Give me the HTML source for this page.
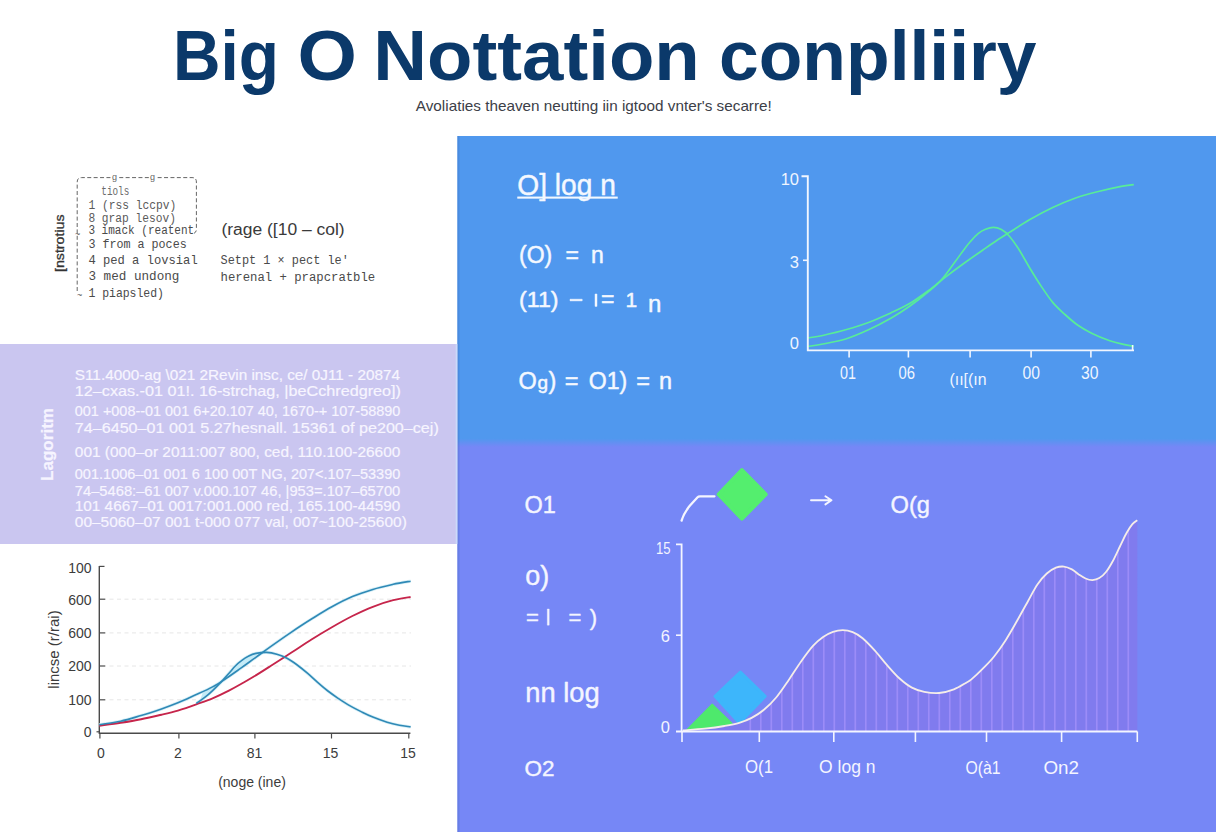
<!DOCTYPE html>
<html lang="en">
<head>
<meta charset="utf-8">
<title>Big O Nottation conplliiry</title>
<style>
  html, body { margin: 0; padding: 0; background: #ffffff; }
  body { width: 1216px; height: 832px; overflow: hidden; font-family: "Liberation Sans", sans-serif; }
  svg { display: block; }
  text { font-family: "Liberation Sans", sans-serif; }
  .mono { font-family: "Liberation Mono", monospace; }
</style>
</head>
<body>
<svg width="1216" height="832" viewBox="0 0 1216 832">
  <defs>
    <linearGradient id="rightbg" x1="0" y1="0" x2="0" y2="1" gradientUnits="objectBoundingBox">
      <stop offset="0" stop-color="#5098EE"/>
      <stop offset="0.4346" stop-color="#5098EE"/>
      <stop offset="0.4468" stop-color="#7687F6"/>
      <stop offset="1" stop-color="#7687F6"/>
    </linearGradient>
    <pattern id="stripes" x="0" y="0" width="8.2" height="10" patternUnits="userSpaceOnUse">
      <rect x="0" y="0" width="8.2" height="10" fill="#8877E8"/>
      <rect x="3.4" y="0" width="1.4" height="10" fill="#A493F2"/>
    </pattern>
  </defs>

  <!-- ============ BACKGROUND PANELS ============ -->
  <rect x="0" y="0" width="1216" height="832" fill="#ffffff"/>
  <rect x="457.3" y="136" width="758.7" height="696" fill="url(#rightbg)"/>
  <rect x="0" y="344" width="457.3" height="200" fill="#CAC6F0"/>
  <rect x="455.7" y="344" width="1.6" height="200" fill="#CBDAFB"/>
  <rect x="457.3" y="136" width="2.2" height="696" fill="#2c5aa8" opacity="0.2"/>

  <!-- ============ TITLE ============ -->
  <g id="title">
    <g font-size="71" font-weight="700" fill="#0B396A">
      <text id="w1" x="173" y="80" textLength="106" lengthAdjust="spacingAndGlyphs">Big</text>
      <text id="w2" x="297.6" y="80" textLength="59.4" lengthAdjust="spacingAndGlyphs">O</text>
      <text id="w3" x="373.3" y="80" textLength="326.5" lengthAdjust="spacingAndGlyphs">Nottation</text>
      <text id="w4" x="719" y="80" textLength="317.6" lengthAdjust="spacingAndGlyphs">conplliiry</text>
    </g>
    <text x="415.8" y="110.8" font-size="14.5" fill="#3c4048" textLength="356" lengthAdjust="spacingAndGlyphs">Avoliaties theaven neutting iin igtood vnter's secarre!</text>
  </g>

  <!-- SECTION: topleft -->
  <g id="topleft">
    <path d="M77.2 291 V182 Q77.2 177.6 81.6 177.6 H192 Q196.4 177.6 196.4 182 V229 Q196.4 233.6 192 233.6" fill="none" stroke="#555" stroke-width="0.9" stroke-dasharray="4 2.4"/>
    <rect x="111" y="174" width="8" height="7" fill="#fff"/><rect x="149" y="174" width="8" height="7" fill="#fff"/>
    <text x="112" y="180" font-size="9" fill="#666">g</text>
    <text x="150" y="180" font-size="9" fill="#666">g</text>
    <text x="75" y="237" font-size="9" fill="#555">~</text>
    <text x="77" y="298" font-size="9" fill="#555">~</text>
    <g class="mono" fill="#4a4a4a" font-size="12">
      <text class="mono" x="101.3" y="195" fill="#6a6a6a" textLength="28" lengthAdjust="spacingAndGlyphs">tiols</text>
      <text class="mono" x="88.4" y="208.6" fill="#5a5a5a" textLength="88" lengthAdjust="spacingAndGlyphs">1 (rss lccpv)</text>
      <text class="mono" x="88.4" y="221.6" fill="#5a5a5a" textLength="87.5" lengthAdjust="spacingAndGlyphs">8 grap lesov)</text>
      <text class="mono" x="88.4" y="233.6" textLength="105.8" lengthAdjust="spacingAndGlyphs">3 imack (reatent</text>
      <text class="mono" x="88.4" y="247.8" textLength="98.3" lengthAdjust="spacingAndGlyphs">3 from a poces</text>
      <text class="mono" x="88.4" y="264" font-size="13" textLength="109.3" lengthAdjust="spacingAndGlyphs">4 ped a lovsial</text>
      <text class="mono" x="88.4" y="280.3" font-size="13" textLength="91" lengthAdjust="spacingAndGlyphs">3 med undong</text>
      <text class="mono" x="88.4" y="296.9" font-size="13" textLength="75.6" lengthAdjust="spacingAndGlyphs">1 piapsled)</text>
    </g>
    <text transform="translate(63.6,272) rotate(-90)" font-size="12.5" fill="#333" stroke="#333" stroke-width="0.3" textLength="57.5" lengthAdjust="spacingAndGlyphs">[nstrotius</text>
    <text x="221.4" y="234.9" font-size="16" fill="#3a3a3a" textLength="123.3" lengthAdjust="spacingAndGlyphs">(rage ([10 – col)</text>
    <text class="mono" x="220.6" y="263.8" font-size="12.5" fill="#4a4a4a" textLength="128.2" lengthAdjust="spacingAndGlyphs">Setpt 1 × pect le'</text>
    <text class="mono" x="220.6" y="280.9" font-size="12.5" fill="#4a4a4a" textLength="154.6" lengthAdjust="spacingAndGlyphs">herenal + prapcratble</text>
  </g>
  <!-- SECTION: lavender -->
  <g id="lavender" fill="#F7F5FF" stroke="#F7F5FF" stroke-width="0.2" font-size="14.3">
    <text x="74.8" y="379.8" textLength="325.2" lengthAdjust="spacingAndGlyphs">S11.4000-ag \021 2Revin insc, ce/ 0J11 - 20874</text>
    <text x="74.8" y="395.8" textLength="326.2" lengthAdjust="spacingAndGlyphs">12–cxas.-01 01!. 16-strchag, |beCchredgreo])</text>
    <text x="74.8" y="416.4" textLength="325.5" lengthAdjust="spacingAndGlyphs">001 +008--01 001 6+20.107 40, 1670-+ 107-58890</text>
    <text x="74.8" y="433" textLength="364" lengthAdjust="spacingAndGlyphs">74–6450–01 001 5.27hesnall. 15361 of  pe200–cej)</text>
    <text x="74.8" y="456.6" textLength="325.5" lengthAdjust="spacingAndGlyphs">001 (000–or 2011:007 800, ced, 110.100-26600</text>
    <text x="74.8" y="479" textLength="325.5" lengthAdjust="spacingAndGlyphs">001.1006–01 001 6 100 00T NG, 207&lt;.107–53390</text>
    <text x="74.8" y="495.6" textLength="325.5" lengthAdjust="spacingAndGlyphs">74–5468:–61 007 v.000.107 46, |953=.107–65700</text>
    <text x="74.8" y="510.6" textLength="325.5" lengthAdjust="spacingAndGlyphs">101 4667–01 0017:001.000 red, 165.100-44590</text>
    <text x="74.8" y="526.9" textLength="332" lengthAdjust="spacingAndGlyphs">00–5060–07 001 t-000 077 val, 007~100-25600)</text>
    <text transform="translate(52.5,481) rotate(-90)" font-size="16" font-weight="700" fill="#F6F4FF" textLength="73" lengthAdjust="spacingAndGlyphs">Lagoritm</text>
  </g>
  <!-- SECTION: chart-bl -->
  <g id="chart-bl">
    <g stroke="#E6E6E6" stroke-width="1" stroke-dasharray="4 3.5">
      <line x1="109.5" y1="599.2" x2="411" y2="599.2"/>
      <line x1="109.5" y1="632.9" x2="411" y2="632.9"/>
      <line x1="109.5" y1="666" x2="411" y2="666"/>
      <line x1="109.5" y1="699.8" x2="411" y2="699.8"/>
    </g>
    <path d="M99.3 566 V733.3 H410.4" fill="none" stroke="#4a4a4a" stroke-width="1.4"/>
    <g stroke="#4a4a4a" stroke-width="1.2">
      <line x1="99.3" y1="566.4" x2="104.5" y2="566.4"/>
      <line x1="99.3" y1="599.2" x2="105.3" y2="599.2"/>
      <line x1="99.3" y1="632.9" x2="105.3" y2="632.9"/>
      <line x1="99.3" y1="666" x2="105.3" y2="666"/>
      <line x1="99.3" y1="699.8" x2="105.3" y2="699.8"/>
      <line x1="96.5" y1="731.8" x2="99.3" y2="731.8"/>
      <line x1="99.9" y1="733" x2="99.9" y2="738.5"/>
      <line x1="178.9" y1="733" x2="178.9" y2="738.5"/>
      <line x1="254.9" y1="733" x2="254.9" y2="738.5"/>
      <line x1="331.5" y1="733" x2="331.5" y2="738.5"/>
      <line x1="408.8" y1="733" x2="408.8" y2="738.5"/>
    </g>
    <g font-size="14" fill="#3c3c3c" text-anchor="end">
      <text x="91.5" y="572.6">100</text>
      <text x="91.5" y="604.5">600</text>
      <text x="91.5" y="637.8">600</text>
      <text x="91.5" y="671.1">200</text>
      <text x="91.5" y="704.8">100</text>
      <text x="91.5" y="737.2">0</text>
    </g>
    <g font-size="14" fill="#3c3c3c" text-anchor="middle">
      <text x="101" y="757.6">0</text>
      <text x="178" y="757.6">2</text>
      <text x="254.5" y="757.6">81</text>
      <text x="330.5" y="757.6">15</text>
      <text x="408" y="757.6">15</text>
      <text x="252" y="787" font-size="14">(noge (ine)</text>
    </g>
    <text transform="translate(59.2,649.5) rotate(-90)" font-size="15" fill="#3c3c3c" text-anchor="middle">lincse (r/rai)</text>
    <path d="M200.0 700.8 C200.7 700.3 202.3 699.4 204.4 697.7 C206.5 696.0 209.9 693.2 212.6 690.6 C215.3 688.0 218.1 685.3 220.8 682.4 C223.5 679.5 226.6 675.9 229.0 673.2 C231.4 670.5 233.1 668.2 235.1 666.2 C237.1 664.2 239.0 662.5 241.2 660.9 C243.4 659.2 245.8 657.5 248.3 656.3 C250.8 655.0 253.7 654.0 256.0 653.4 C258.3 652.8 261.0 652.7 262.0 652.6 L262.0 652.8 C260.9 653.6 259.0 655.1 255.5 657.6 C252.0 660.1 246.3 664.3 241.2 667.9 C236.1 671.5 229.7 676.1 224.9 679.3 C220.1 682.5 216.2 684.8 212.6 686.9 C208.9 689.0 204.6 690.8 203.0 691.6 Z" fill="#C4ECF8" stroke="none"/>
    <path d="M99.2 724.7 C102.8 724.1 113.6 722.7 120.6 721.2 C127.6 719.7 134.3 717.5 141.1 715.5 C147.9 713.5 155.4 711.0 161.5 708.9 C167.6 706.8 172.1 705.2 177.9 702.8 C183.7 700.4 190.5 697.2 196.3 694.6 C202.1 692.0 207.8 689.5 212.6 686.9 C217.4 684.3 220.1 682.5 224.9 679.3 C229.7 676.1 236.1 671.5 241.2 667.9 C246.3 664.3 250.6 661.1 255.5 657.6 C260.4 654.1 264.7 650.8 270.6 646.6 C276.5 642.4 284.3 636.9 291.1 632.3 C297.9 627.7 304.7 623.2 311.5 619.0 C318.3 614.8 325.1 610.5 331.9 606.8 C338.7 603.1 345.6 599.5 352.4 596.6 C359.2 593.7 366.0 591.5 372.8 589.4 C379.6 587.3 386.9 585.7 393.2 584.3 C399.5 582.9 407.7 581.7 410.6 581.2" fill="none" stroke="#C7E9F4" stroke-width="3.2" opacity="0.7"/>
    <path d="M196.3 703.4 C197.7 702.5 201.7 699.8 204.4 697.7 C207.1 695.6 209.9 693.2 212.6 690.6 C215.3 688.0 218.1 685.3 220.8 682.4 C223.5 679.5 226.6 675.9 229.0 673.2 C231.4 670.5 233.1 668.2 235.1 666.2 C237.1 664.2 239.0 662.5 241.2 660.9 C243.4 659.2 245.8 657.5 248.3 656.3 C250.8 655.0 252.9 654.0 256.0 653.4 C259.1 652.8 263.1 652.3 266.6 652.4 C270.1 652.5 273.4 653.2 276.8 654.2 C280.2 655.2 283.6 656.5 287.0 658.3 C290.4 660.1 293.8 662.5 297.2 665.0 C300.6 667.5 304.0 670.3 307.4 673.2 C310.8 676.1 314.2 679.4 317.6 682.4 C321.0 685.4 324.5 688.4 327.9 691.0 C331.3 693.6 334.7 696.0 338.1 698.3 C341.5 700.6 344.6 702.7 348.3 704.9 C352.1 707.1 356.5 709.4 360.6 711.4 C364.7 713.4 368.4 715.3 372.8 717.1 C377.2 718.9 382.7 720.8 387.1 722.2 C391.5 723.6 395.5 724.5 399.4 725.3 C403.3 726.1 408.7 726.6 410.6 726.9" fill="none" stroke="#C7E9F4" stroke-width="3.2" opacity="0.7"/>
    <path d="M99.2 725.7 C102.8 725.2 113.6 723.9 120.6 722.8 C127.6 721.7 134.3 720.6 141.1 719.2 C147.9 717.9 155.4 716.1 161.5 714.7 C167.6 713.3 172.1 712.3 177.9 710.6 C183.7 708.9 190.5 706.5 196.3 704.4 C202.1 702.3 207.2 700.6 212.6 698.3 C218.0 696.0 224.2 693.0 228.9 690.6 C233.6 688.2 236.8 686.4 241.0 684.0 C245.2 681.6 249.4 679.3 254.3 676.3 C259.2 673.3 264.5 669.9 270.6 666.0 C276.7 662.1 284.3 657.2 291.1 652.8 C297.9 648.4 304.7 643.8 311.5 639.5 C318.3 635.2 325.1 631.1 331.9 627.2 C338.7 623.3 345.6 619.4 352.4 616.0 C359.2 612.6 366.0 609.4 372.8 606.8 C379.6 604.2 386.9 601.8 393.2 600.2 C399.5 598.6 407.7 597.5 410.6 597.0" fill="none" stroke="#C6254B" stroke-width="1.9"/>
    <path d="M99.2 724.7 C102.8 724.1 113.6 722.7 120.6 721.2 C127.6 719.7 134.3 717.5 141.1 715.5 C147.9 713.5 155.4 711.0 161.5 708.9 C167.6 706.8 172.1 705.2 177.9 702.8 C183.7 700.4 190.5 697.2 196.3 694.6 C202.1 692.0 207.8 689.5 212.6 686.9 C217.4 684.3 220.1 682.5 224.9 679.3 C229.7 676.1 236.1 671.5 241.2 667.9 C246.3 664.3 250.6 661.1 255.5 657.6 C260.4 654.1 264.7 650.8 270.6 646.6 C276.5 642.4 284.3 636.9 291.1 632.3 C297.9 627.7 304.7 623.2 311.5 619.0 C318.3 614.8 325.1 610.5 331.9 606.8 C338.7 603.1 345.6 599.5 352.4 596.6 C359.2 593.7 366.0 591.5 372.8 589.4 C379.6 587.3 386.9 585.7 393.2 584.3 C399.5 582.9 407.7 581.7 410.6 581.2" fill="none" stroke="#2F89B6" stroke-width="1.6"/>
    <path d="M196.3 703.4 C197.7 702.5 201.7 699.8 204.4 697.7 C207.1 695.6 209.9 693.2 212.6 690.6 C215.3 688.0 218.1 685.3 220.8 682.4 C223.5 679.5 226.6 675.9 229.0 673.2 C231.4 670.5 233.1 668.2 235.1 666.2 C237.1 664.2 239.0 662.5 241.2 660.9 C243.4 659.2 245.8 657.5 248.3 656.3 C250.8 655.0 252.9 654.0 256.0 653.4 C259.1 652.8 263.1 652.3 266.6 652.4 C270.1 652.5 273.4 653.2 276.8 654.2 C280.2 655.2 283.6 656.5 287.0 658.3 C290.4 660.1 293.8 662.5 297.2 665.0 C300.6 667.5 304.0 670.3 307.4 673.2 C310.8 676.1 314.2 679.4 317.6 682.4 C321.0 685.4 324.5 688.4 327.9 691.0 C331.3 693.6 334.7 696.0 338.1 698.3 C341.5 700.6 344.6 702.7 348.3 704.9 C352.1 707.1 356.5 709.4 360.6 711.4 C364.7 713.4 368.4 715.3 372.8 717.1 C377.2 718.9 382.7 720.8 387.1 722.2 C391.5 723.6 395.5 724.5 399.4 725.3 C403.3 726.1 408.7 726.6 410.6 726.9" fill="none" stroke="#2F89B6" stroke-width="1.6"/>
  </g>
  <!-- SECTION: blue-text -->
  <g id="blue-text" fill="#F4F8FF" stroke="#F4F8FF" stroke-width="0.45" stroke-linejoin="round">
    <text x="517.3" y="194.6" font-size="29.3" textLength="98.5" lengthAdjust="spacingAndGlyphs">O] log n</text>
    <rect x="517.5" y="196.8" width="100" height="1.6" fill="#F4F8FF"/>
    <text x="519" y="263.3" font-size="23">(O)</text>
    <text x="565.5" y="263.3" font-size="23">=</text>
    <text x="591" y="263.3" font-size="23">n</text>
    <text x="519" y="306.6" font-size="22.5" textLength="39.5" lengthAdjust="spacingAndGlyphs">(11)</text>
    <rect x="570" y="299.2" width="12.2" height="1.7"/>
    <rect x="595" y="294" width="2" height="12.4"/>
    <text x="601" y="306.6" font-size="23">=</text>
    <text x="625.5" y="306.6" font-size="21">1</text>
    <text x="648" y="311.6" font-size="24">n</text>
    <text x="518.5" y="389.4" font-size="23.5">O</text>
    <text x="537.5" y="388.5" font-size="19">g</text>
    <text x="548.5" y="389.4" font-size="23.5">)</text>
    <text x="564.8" y="389.4" font-size="23.5">=</text>
    <text x="588.8" y="389.4" font-size="23.5" textLength="38.5" lengthAdjust="spacingAndGlyphs">O1)</text>
    <text x="636.2" y="389.4" font-size="23.5">=</text>
    <text x="659" y="389.4" font-size="23.5">n</text>
  </g>
  <!-- SECTION: chart-tr -->
  <g id="chart-tr">
    <path d="M808.2 346.4 C810.6 346.0 816.5 345.2 822.8 344.0 C829.0 342.8 838.1 341.4 845.7 339.0 C853.3 336.6 860.9 333.3 868.5 329.8 C876.1 326.3 884.4 321.9 891.3 318.0 C898.1 314.1 903.5 310.6 909.6 306.3 C915.7 302.0 922.6 296.6 927.9 292.1 C933.2 287.7 937.0 284.7 941.6 279.6 C946.2 274.5 951.6 266.4 955.3 261.5 C959.0 256.6 961.2 253.2 963.7 249.9 C966.2 246.7 967.6 244.7 970.0 242.0 C972.4 239.3 975.5 235.7 978.1 233.6 C980.7 231.5 983.0 230.3 985.5 229.3 C988.0 228.3 990.8 227.4 993.4 227.4 C996.0 227.4 998.7 228.1 1001.4 229.6 C1004.1 231.1 1006.5 233.0 1009.4 236.2 C1012.2 239.4 1015.1 243.5 1018.5 248.8 C1021.9 254.1 1026.1 261.9 1029.9 268.2 C1033.7 274.5 1037.5 280.7 1041.3 286.4 C1045.1 292.1 1048.9 297.8 1052.7 302.4 C1056.5 307.0 1060.0 310.0 1064.2 313.8 C1068.4 317.6 1073.3 322.1 1077.9 325.3 C1082.5 328.5 1086.3 330.6 1091.6 333.2 C1096.9 335.8 1104.5 338.9 1109.8 340.8 C1115.1 342.7 1119.5 343.5 1123.5 344.4 C1127.5 345.3 1132.1 346.0 1133.8 346.3" fill="none" stroke="#58EC98" stroke-width="1.7"/>
    <path d="M808.2 337.9 C810.6 337.5 816.5 336.9 822.8 335.5 C829.0 334.1 838.1 332.0 845.7 329.8 C853.3 327.6 860.9 325.4 868.5 322.5 C876.1 319.6 884.4 315.8 891.3 312.7 C898.1 309.6 903.5 307.2 909.6 303.6 C915.7 300.0 921.8 295.5 927.9 291.0 C934.0 286.5 940.0 281.3 946.1 276.6 C952.2 271.9 958.3 267.4 964.4 263.0 C970.5 258.6 977.4 253.8 982.6 250.2 C987.8 246.6 991.2 244.2 995.7 241.2 C1000.2 238.2 1003.7 236.0 1009.4 232.4 C1015.1 228.8 1022.7 223.8 1029.9 219.6 C1037.1 215.4 1045.1 211.1 1052.7 207.5 C1060.3 203.9 1068.0 200.7 1075.6 198.0 C1083.2 195.3 1090.8 193.4 1098.4 191.5 C1106.0 189.6 1115.3 187.6 1121.2 186.4 C1127.1 185.2 1131.7 184.9 1133.8 184.6" fill="none" stroke="#58EC98" stroke-width="1.7"/>
    <path d="M801.5 176.2 H807.8 V350.4 H1134" fill="none" stroke="#F1F6FF" stroke-width="1.9"/>
    <g stroke="#F1F6FF" stroke-width="1.6">
      <line x1="803" y1="260.3" x2="807.8" y2="260.3"/>
      <line x1="849.1" y1="350.4" x2="849.1" y2="357.5"/>
      <line x1="908.4" y1="350.4" x2="908.4" y2="357.5"/>
      <line x1="970.1" y1="350.4" x2="970.1" y2="357.5"/>
      <line x1="1031.1" y1="350.4" x2="1031.1" y2="357.5"/>
      <line x1="1090.9" y1="350.4" x2="1090.9" y2="357.5"/>
      <line x1="1132.6" y1="345" x2="1132.6" y2="350"/>
    </g>
    <g font-size="15.5" fill="#EFF5FF" text-anchor="end">
      <text x="799" y="185.4" font-size="16.5">10</text>
      <text x="799" y="267.6" font-size="16.5">3</text>
      <text x="799" y="348.8" font-size="16.5">0</text>
    </g>
    <g font-size="17.5" fill="#EFF5FF">
      <text x="840" y="379" textLength="16" lengthAdjust="spacingAndGlyphs">01</text>
      <text x="898.6" y="379" textLength="16.5" lengthAdjust="spacingAndGlyphs">06</text>
      <text x="949.5" y="385" font-size="17" textLength="37" lengthAdjust="spacingAndGlyphs">(ıı[(ın</text>
      <text x="1022.5" y="379" textLength="17.5" lengthAdjust="spacingAndGlyphs">00</text>
      <text x="1081" y="379" textLength="17.5" lengthAdjust="spacingAndGlyphs">30</text>
    </g>
  </g>
  <!-- SECTION: purple-text -->
  <g id="purple-text" fill="#F4F5FF" stroke="#F4F5FF" stroke-width="0.4" stroke-linejoin="round">
    <text x="524.6" y="512.9" font-size="23.5">O1</text>
    <text x="525.3" y="585.1" font-size="27">o)</text>
    <text x="526" y="624.8" font-size="22">=</text>
    <rect x="547.3" y="609" width="1.9" height="16.2"/>
    <text x="568.5" y="624.8" font-size="22">=</text>
    <text x="589.8" y="624.8" font-size="22">)</text>
    <text x="525.2" y="702.2" font-size="27" textLength="74.5" lengthAdjust="spacingAndGlyphs">nn log</text>
    <text x="524.6" y="775.7" font-size="22.5">O2</text>
  </g>
  <!-- SECTION: chart-br -->
  <g id="chart-br">
    <defs>
      <clipPath id="areaclip">
        <path id="areapath" d="M683.0 730.4 C686.6 730.1 697.8 729.3 704.7 728.6 C711.6 727.9 718.6 727.0 724.4 726.0 C730.1 725.0 734.7 724.2 739.2 722.9 C743.7 721.5 747.5 720.1 751.6 717.9 C755.7 715.7 759.8 713.2 763.9 709.8 C768.0 706.4 772.1 702.4 776.2 697.5 C780.3 692.6 784.5 686.2 788.6 680.2 C792.7 674.2 796.8 667.5 800.9 661.7 C805.0 655.9 809.5 649.7 813.2 645.6 C816.9 641.5 819.8 639.3 823.1 637.0 C826.4 634.7 829.7 632.9 833.0 631.8 C836.3 630.7 839.5 630.2 842.8 630.2 C846.1 630.2 849.4 630.8 852.7 632.1 C856.0 633.4 858.9 635.1 862.6 638.2 C866.3 641.3 870.8 646.1 874.9 650.6 C879.0 655.1 883.2 660.8 887.3 665.4 C891.4 670.0 895.5 674.8 899.6 678.5 C903.7 682.2 907.8 685.4 911.9 687.6 C916.0 689.8 919.8 690.9 924.3 691.8 C928.8 692.7 934.2 693.4 939.1 693.0 C944.0 692.6 949.4 691.0 953.9 689.3 C958.4 687.6 963.3 684.4 966.2 682.7 C969.1 681.1 968.6 681.7 971.4 679.4 C974.2 677.1 979.0 672.6 982.8 668.7 C986.6 664.8 990.5 661.0 994.3 656.2 C998.1 651.5 1001.9 646.1 1005.7 640.2 C1009.5 634.3 1013.3 627.5 1017.1 620.8 C1020.9 614.1 1025.1 606.3 1028.5 600.2 C1031.9 594.1 1034.5 588.7 1037.6 584.2 C1040.6 579.8 1043.8 576.2 1046.8 573.5 C1049.8 570.8 1053.1 568.9 1055.9 567.7 C1058.8 566.6 1061.2 566.3 1063.9 566.6 C1066.6 566.9 1069.4 568.1 1071.9 569.4 C1074.4 570.7 1076.4 572.9 1078.7 574.4 C1081.0 575.9 1083.3 577.5 1085.6 578.5 C1087.9 579.5 1090.2 580.2 1092.5 580.1 C1094.8 580.0 1097.0 579.5 1099.3 578.1 C1101.6 576.7 1103.9 574.6 1106.2 571.7 C1108.5 568.8 1110.7 564.9 1113.0 560.7 C1115.3 556.5 1117.6 551.1 1119.9 546.5 C1122.2 541.9 1124.6 536.5 1126.7 532.8 C1128.8 529.1 1130.6 526.3 1132.4 524.2 C1134.2 522.1 1136.5 520.9 1137.3 520.3 V732 H683 Z"/>
      </clipPath>
    </defs>
    <!-- decorative shapes behind the curve -->
    <path d="M712.2 704.6 L731.6 723.4 L687.5 729.6 Z" fill="#4EE96C" stroke="#4EE96C" stroke-width="2" stroke-linejoin="round"/>
    <path d="M740.4 672 L765.2 696.3 L739.5 723 L715 696.3 Z" fill="#3DB6FB" stroke="#3DB6FB" stroke-width="3" stroke-linejoin="round"/>
    <g clip-path="url(#areaclip)">
      <rect x="680" y="515" width="460" height="220" fill="#807BEE"/>
      <g id="stripes" stroke="#9B8CF8" stroke-width="1.7"><line x1="750.3" y1="515" x2="750.3" y2="735"/><line x1="760.8" y1="515" x2="760.8" y2="735"/><line x1="771.3" y1="515" x2="771.3" y2="735"/><line x1="781.8" y1="515" x2="781.8" y2="735"/><line x1="792.3" y1="515" x2="792.3" y2="735"/><line x1="802.8" y1="515" x2="802.8" y2="735"/><line x1="813.3" y1="515" x2="813.3" y2="735"/><line x1="823.8" y1="515" x2="823.8" y2="735"/><line x1="834.3" y1="515" x2="834.3" y2="735"/><line x1="844.8" y1="515" x2="844.8" y2="735"/><line x1="855.3" y1="515" x2="855.3" y2="735"/><line x1="865.8" y1="515" x2="865.8" y2="735"/><line x1="876.3" y1="515" x2="876.3" y2="735"/><line x1="886.8" y1="515" x2="886.8" y2="735"/><line x1="897.3" y1="515" x2="897.3" y2="735"/><line x1="907.8" y1="515" x2="907.8" y2="735"/><line x1="918.3" y1="515" x2="918.3" y2="735"/><line x1="928.8" y1="515" x2="928.8" y2="735"/><line x1="939.3" y1="515" x2="939.3" y2="735"/><line x1="949.8" y1="515" x2="949.8" y2="735"/><line x1="960.3" y1="515" x2="960.3" y2="735"/><line x1="970.8" y1="515" x2="970.8" y2="735"/><line x1="981.3" y1="515" x2="981.3" y2="735"/><line x1="991.8" y1="515" x2="991.8" y2="735"/><line x1="1002.3" y1="515" x2="1002.3" y2="735"/><line x1="1012.8" y1="515" x2="1012.8" y2="735"/><line x1="1023.3" y1="515" x2="1023.3" y2="735"/><line x1="1033.8" y1="515" x2="1033.8" y2="735"/><line x1="1044.3" y1="515" x2="1044.3" y2="735"/><line x1="1054.8" y1="515" x2="1054.8" y2="735"/><line x1="1065.3" y1="515" x2="1065.3" y2="735"/><line x1="1075.8" y1="515" x2="1075.8" y2="735"/><line x1="1086.3" y1="515" x2="1086.3" y2="735"/><line x1="1096.8" y1="515" x2="1096.8" y2="735"/><line x1="1107.3" y1="515" x2="1107.3" y2="735"/><line x1="1117.8" y1="515" x2="1117.8" y2="735"/><line x1="1128.3" y1="515" x2="1128.3" y2="735"/></g>
    </g>
    <path d="M683.0 730.4 C686.6 730.1 697.8 729.3 704.7 728.6 C711.6 727.9 718.6 727.0 724.4 726.0 C730.1 725.0 734.7 724.2 739.2 722.9 C743.7 721.5 747.5 720.1 751.6 717.9 C755.7 715.7 759.8 713.2 763.9 709.8 C768.0 706.4 772.1 702.4 776.2 697.5 C780.3 692.6 784.5 686.2 788.6 680.2 C792.7 674.2 796.8 667.5 800.9 661.7 C805.0 655.9 809.5 649.7 813.2 645.6 C816.9 641.5 819.8 639.3 823.1 637.0 C826.4 634.7 829.7 632.9 833.0 631.8 C836.3 630.7 839.5 630.2 842.8 630.2 C846.1 630.2 849.4 630.8 852.7 632.1 C856.0 633.4 858.9 635.1 862.6 638.2 C866.3 641.3 870.8 646.1 874.9 650.6 C879.0 655.1 883.2 660.8 887.3 665.4 C891.4 670.0 895.5 674.8 899.6 678.5 C903.7 682.2 907.8 685.4 911.9 687.6 C916.0 689.8 919.8 690.9 924.3 691.8 C928.8 692.7 934.2 693.4 939.1 693.0 C944.0 692.6 949.4 691.0 953.9 689.3 C958.4 687.6 963.3 684.4 966.2 682.7 C969.1 681.1 968.6 681.7 971.4 679.4 C974.2 677.1 979.0 672.6 982.8 668.7 C986.6 664.8 990.5 661.0 994.3 656.2 C998.1 651.5 1001.9 646.1 1005.7 640.2 C1009.5 634.3 1013.3 627.5 1017.1 620.8 C1020.9 614.1 1025.1 606.3 1028.5 600.2 C1031.9 594.1 1034.5 588.7 1037.6 584.2 C1040.6 579.8 1043.8 576.2 1046.8 573.5 C1049.8 570.8 1053.1 568.9 1055.9 567.7 C1058.8 566.6 1061.2 566.3 1063.9 566.6 C1066.6 566.9 1069.4 568.1 1071.9 569.4 C1074.4 570.7 1076.4 572.9 1078.7 574.4 C1081.0 575.9 1083.3 577.5 1085.6 578.5 C1087.9 579.5 1090.2 580.2 1092.5 580.1 C1094.8 580.0 1097.0 579.5 1099.3 578.1 C1101.6 576.7 1103.9 574.6 1106.2 571.7 C1108.5 568.8 1110.7 564.9 1113.0 560.7 C1115.3 556.5 1117.6 551.1 1119.9 546.5 C1122.2 541.9 1124.6 536.5 1126.7 532.8 C1128.8 529.1 1130.6 526.3 1132.4 524.2 C1134.2 522.1 1136.5 520.9 1137.3 520.3" fill="none" stroke="#F5EDE9" stroke-width="1.8"/>
    <!-- axes -->
    <path d="M676 544.4 H681.6 V731.5" fill="none" stroke="#F4F5FF" stroke-width="1.8"/>
    <path d="M676 731.5 H1137.3" fill="none" stroke="#F4F5FF" stroke-width="1.8"/>
    <g stroke="#F4F5FF" stroke-width="1.6">
      <line x1="676" y1="635.2" x2="681.6" y2="635.2"/>
      <line x1="682" y1="731.5" x2="682" y2="742"/>
      <line x1="759.3" y1="731.5" x2="759.3" y2="742"/>
      <line x1="833.8" y1="731.5" x2="833.8" y2="742"/>
      <line x1="915.4" y1="731.5" x2="915.4" y2="742"/>
      <line x1="986.5" y1="731.5" x2="986.5" y2="742"/>
      <line x1="1061.6" y1="731.5" x2="1061.6" y2="742"/>
      <line x1="1137.3" y1="731.5" x2="1137.3" y2="742"/>
    </g>
    <g font-size="15.5" fill="#F4F5FF" text-anchor="end">
      <text x="656" y="554.2" font-size="17" text-anchor="start" textLength="14.6" lengthAdjust="spacingAndGlyphs">15</text>
      <text x="670" y="642.2" font-size="16.5">6</text>
      <text x="670" y="732.6" font-size="16.5">0</text>
    </g>
    <g font-size="17.5" fill="#F4F5FF">
      <text x="745" y="773" textLength="28" lengthAdjust="spacingAndGlyphs">O(1</text>
      <text x="819" y="773" textLength="56.5" lengthAdjust="spacingAndGlyphs">O log n</text>
      <text x="965.5" y="774" textLength="35" lengthAdjust="spacingAndGlyphs">O(à1</text>
      <text x="1043.5" y="774" textLength="35.5" lengthAdjust="spacingAndGlyphs">On2</text>
    </g>
    <!-- top decorations -->
    <path d="M741.9 470.2 L765.7 494.4 L741.9 518.6 L718.7 494.4 Z" fill="#54EE6E" stroke="#54EE6E" stroke-width="4" stroke-linejoin="round"/>
    <path d="M681.6 520.6 C683 515.5 686 510.5 690 505.6 L697.6 497.2 Q698.4 496.3 700 496.3 H714.5" fill="none" stroke="#F4F5FF" stroke-width="2.3" stroke-linecap="round" stroke-linejoin="round"/>
    <path d="M811 500.3 H831.2 M825.4 496.2 L831.5 500.3 L825.4 504.4" fill="none" stroke="#F4F5FF" stroke-width="1.9" stroke-linecap="round" stroke-linejoin="round"/>
    <text x="890.5" y="513" font-size="24" fill="#F4F5FF" stroke="#F4F5FF" stroke-width="0.4" textLength="39.5" lengthAdjust="spacingAndGlyphs">O(g</text>
  </g>
</svg>
</body>
</html>
